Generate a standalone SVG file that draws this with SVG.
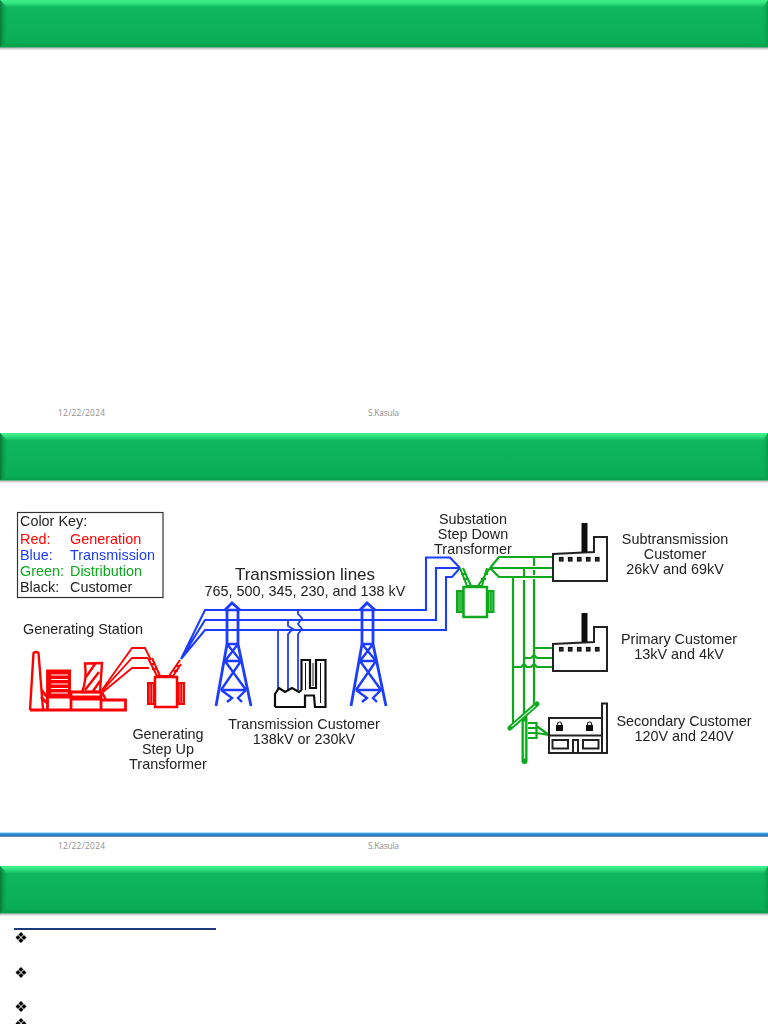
<svg xmlns="http://www.w3.org/2000/svg" xmlns:xlink="http://www.w3.org/1999/xlink" width="768" height="1024" viewBox="0 0 768 1024">
<style>
text{font-family:"Liberation Sans",Arial,sans-serif;fill:#222}
.c{text-anchor:middle}
.f{font-family:"Open Sans","Noto Sans",sans-serif;font-size:8.400px;fill:#8f8f8f}
.k{font-size:14.400px}
.l{font-size:14.400px}
.r{fill:none;stroke:#f00;stroke-width:2.400}
.b{fill:none;stroke:#1c3cff;stroke-width:2.100}
.g{fill:none;stroke:#0aa81e;stroke-width:2.200}
.t{fill:none;stroke:#111;stroke-width:2.200}
.bul{font-family:"DejaVu Sans",sans-serif;font-size:15px;fill:#000;opacity:.99}
</style>
<defs>
<linearGradient id="gr" x1="0" y1="0" x2="0" y2="1">
<stop offset="0" stop-color="#3ff28c"/><stop offset=".06" stop-color="#35e581"/><stop offset=".16" stop-color="#0fb75f"/><stop offset=".9" stop-color="#0aad56"/><stop offset=".97" stop-color="#07a14a"/><stop offset="1" stop-color="#0c9a4c"/>
</linearGradient>
<linearGradient id="bvl" x1="0" y1="0" x2="1" y2="0"><stop offset="0" stop-color="#067a38"/><stop offset=".5" stop-color="#0a9a4c" stop-opacity=".7"/><stop offset="1" stop-color="#0aad56" stop-opacity="0"/></linearGradient>
<linearGradient id="bvr" x1="1" y1="0" x2="0" y2="0"><stop offset="0" stop-color="#0a9a4c"/><stop offset="1" stop-color="#0aad56" stop-opacity="0"/></linearGradient>
<linearGradient id="bl" x1="0" y1="0" x2="0" y2="1">
<stop offset="0" stop-color="#5db4ee"/><stop offset=".6" stop-color="#1574c4"/><stop offset="1" stop-color="#8f9aa5"/>
</linearGradient>
<filter id="soft" x="-2%" y="-2%" width="104%" height="104%"><feGaussianBlur stdDeviation="0.35"/></filter>
<g id="banner">
<rect x="0" y="47" width="768" height="2.500" fill="#cfcfcf"/>
<rect x="0" y="0" width="768" height="47.500" fill="url(#gr)"/>
<polygon points="0,0 8,8 8,40 0,47.500" fill="url(#bvl)"/>
<polygon points="768,0 762,8 762,40 768,47.500" fill="url(#bvr)"/>
</g>
<g id="tower">
<path style="stroke-width:2.800" d="M225,610 L232,603 L240,610 M227,610 V644 L216,706 M238,610 V644 L251,706"/>
<path style="stroke-width:2.400" d="M225,610 H240 M227,644 H238 M225,661 H241 M221,690 H246 M227,644 L241,661 L221,690 M238,644 L225,661 L246,690 M221,690 L232,698 L227,702 M246,690 L238,698 L242,702"/>
</g>
<g id="factory">
<path d="M553,554 V581 H607 V537 H594 V552 Z" fill="#fff" stroke="#222" stroke-width="2"/>
<rect x="581.500" y="523" width="6" height="29" fill="#111"/>
<g fill="#333" stroke="#111" stroke-width="1.200">
<rect x="559.500" y="557.500" width="3.500" height="3.500"/><rect x="568.500" y="557.500" width="3.500" height="3.500"/><rect x="577.500" y="557.500" width="3.500" height="3.500"/><rect x="586.500" y="557.500" width="3.500" height="3.500"/><rect x="595.500" y="557.500" width="3.500" height="3.500"/>
</g>
</g>
</defs>
<rect width="768" height="1024" fill="#fff"/>
<g id="banner-1"><use xlink:href="#banner" href="#banner" y="0"/></g>
<g id="banner-2"><use xlink:href="#banner" href="#banner" y="433"/></g>
<g id="banner-3"><use xlink:href="#banner" href="#banner" y="866"/></g>
<g id="footer-1"><text class="f" x="58" y="416" textLength="47">12/22/2024</text><text class="f" x="368" y="416" textLength="31">S.Kasula</text></g>
<g id="footer-2"><text class="f" x="58" y="849" textLength="47">12/22/2024</text><text class="f" x="368" y="849" textLength="31">S.Kasula</text></g>
<rect id="rule" x="0" y="832.500" width="768" height="4.500" fill="url(#bl)"/>
<g id="diagram" filter="url(#soft)">
<g id="color-key">
<rect x="17.500" y="512.500" width="145.500" height="85" fill="#fff" stroke="#333" stroke-width="1.200"/>
<text class="k" x="20" y="525.500">Color Key:</text>
<text class="k" x="20" y="544" style="fill:#f00">Red:</text><text class="k" x="70" y="544" style="fill:#f00">Generation</text>
<text class="k" x="20" y="560" style="fill:#1c3cff">Blue:</text><text class="k" x="70" y="560" style="fill:#1c3cff">Transmission</text>
<text class="k" x="20" y="576" style="fill:#0aa81e">Green:</text><text class="k" x="70" y="576" style="fill:#0aa81e">Distribution</text>
<text class="k" x="20" y="592">Black:</text><text class="k" x="70" y="592">Customer</text>
</g>
<g id="generating-station">
<text class="l" x="23" y="634">Generating Station</text>
<path class="r" d="M30,710 L33.500,653 Q36,651 38.500,653 L43,709"/>
<path class="r" style="stroke-width:2.800" d="M30,710 H125.500 V700 H101 V692 H71 M71,710 V692 M101,710 V692 M47.500,710 V671 H71 M71,697 H101 M71,699 H101 M47.500,697 H71 M41,697 L47,703 M41.500,690 L47,697"/>
<rect x="47" y="670" width="24" height="26" fill="#f00"/>
<path style="stroke:#fff;stroke-width:1.100;fill:none" d="M51,675 H68 M51,679.500 H68 M51,684 H68 M51,688.500 H68 M51,693 H68"/>
<path class="r" d="M85,663.500 L102,663 L100,692 H82 Q87,680 85,663.500 Z M85,690 L99,672 M93,691 L100,681 M86,677 L95,664"/>
<path class="r" d="M102,692 L106,700"/>
</g>
<g id="generating-transformer">
<rect x="155" y="677" width="22" height="30" fill="#fff" stroke="#f00" stroke-width="2.500"/>
<rect x="147" y="682" width="8" height="23" fill="#f00"/>
<rect x="177" y="682" width="8" height="23" fill="#f00"/>
<path style="stroke:#ff9a9a;stroke-width:.8;fill:none" d="M150,684 V703 M152.500,684 V703 M180,684 V703 M182.500,684 V703"/>
<path class="r" style="stroke-width:2" d="M148,658 L157,676 M152,658 L160,676 M180,660 L169,676 M181,664 L173,676 M150,664 H154 M152,669 H157 M177,666 H180 M174,671 H178 M157,676 H173"/>
</g>
<g id="generating-label"><text class="l c" x="168" y="739">Generating</text><text class="l c" x="168" y="754">Step Up</text><text class="l c" x="168" y="769">Transformer</text></g>
<g id="lines-label"><text class="c" x="305" y="580" style="font-size:17px">Transmission lines</text><text class="c" x="305" y="596" style="font-size:14.400px">765, 500, 345, 230, and 138 kV</text></g>
<g id="connectors">
<path class="r" style="stroke-width:1.800" d="M102,690 L132,648 H145 L151,660 M102,691 L132,658 H148 M103,692 L132,668 H149"/>
<path class="b" d="M181,659 L205,610 H426 V557.500 H450 L460,568 M181,659 L205,620 H436 V568 H459 M181,659 L205,630 H446 V577 H452 L460,568"/>
<path class="b" style="stroke-width:1.800" d="M278,630 V690 M288,620 V626 L293,629 L288,634 V690 M298,610 V614 L302,618 L298,624 L302,629 L298,634 V690"/>
<path class="g" d="M490,568 L499,557 H553 M490,568 H553 M490,568 L499,577 H553"/>
<path class="g" d="M513,577 V725 M524,568 V576 M524,580 V722 M534,557 V566 M534,570 V575 M534,579 V706"/>
<path class="g" d="M534,648 H553 M524,658 H531 L534,655 L537,658 H553 M513,667 H521 L524,664 L527,667 H531 L534,664 L537,667 H553"/>
</g>
<g id="tower-1" class="b"><use xlink:href="#tower" href="#tower"/></g>
<g id="tower-2" class="b"><use xlink:href="#tower" href="#tower" x="135"/></g>
<g id="transmission-customer">
<path class="t" d="M275,707 V694 L279,688 L285,692 L292,688 L299,692 L301.500,690 M275,707 H305 V695.500 H314 L315,707 H325.500 V660 H316 V688 H310 V660 H301.500 V690"/>
<path class="t" style="stroke-width:1" d="M305.500,690 V663 M313,686 V663 M320.500,703 V663"/>
<text class="l c" x="304" y="729">Transmission Customer</text><text class="l c" x="304" y="744">138kV or 230kV</text>
</g>
<g id="substation">
<text class="l c" x="473" y="524">Substation</text><text class="l c" x="473" y="539">Step Down</text><text class="l c" x="473" y="554">Transformer</text>
<rect x="463.500" y="587" width="23.500" height="30" fill="#fff" stroke="#0aa81e" stroke-width="2.500"/>
<rect x="456" y="590" width="7.500" height="23" fill="#0aa81e"/>
<rect x="487" y="590" width="7.500" height="23" fill="#0aa81e"/>
<path style="stroke:#7fd88a;stroke-width:.8;fill:none" d="M459,592 V611 M461,592 V611 M489.500,592 V611 M492,592 V611"/>
<path class="g" style="stroke-width:2" d="M460,568 L467,586 M463,568 L471,586 M490,568 L478,586 M487,568 L482,586 M461,574 H466 M463,579 H469 M481,579 H486 M484,574 H488 M467,586 H482"/>
</g>
<g id="subtransmission-customer"><use xlink:href="#factory" href="#factory"/>
<text class="l c" x="675" y="544">Subtransmission</text><text class="l c" x="675" y="559">Customer</text><text class="l c" x="675" y="574">26kV and 69kV</text></g>
<g id="primary-customer"><use xlink:href="#factory" href="#factory" y="90"/>
<text class="l c" x="679" y="644">Primary Customer</text><text class="l c" x="679" y="659">13kV and 4kV</text></g>
<g id="distribution-pole">
<path style="fill:none;stroke:#0aa81e;stroke-width:6;stroke-linecap:round" d="M524.500,718 V761"/>
<path style="fill:none;stroke:#c8f0cc;stroke-width:1.500;stroke-linecap:round" d="M524.500,722 V758"/>
<path style="fill:none;stroke:#0aa81e;stroke-width:5;stroke-linecap:round" d="M510,728 L537,704"/>
<path style="fill:none;stroke:#c8f0cc;stroke-width:1.200;stroke-linecap:round" d="M512,726 L535,706"/>
<path class="g" d="M528,723 H536.500 V738 H528 M528,728 H536.500 M528,733 H536.500 M536.500,726 L549,735 M536.500,733 L549,735"/>
</g>
<g id="secondary-customer">
<path d="M549,718 V753 H607 V703.500 H602 V718 Z M549,735.500 H602 M602,718 V753" fill="#fff" stroke="#222" stroke-width="2"/>
<rect x="552.500" y="740" width="15.500" height="8.500" fill="#fff" stroke="#222" stroke-width="2"/>
<rect x="573" y="740" width="5" height="13" fill="#fff" stroke="#222" stroke-width="2"/>
<rect x="583" y="740" width="15.500" height="8.500" fill="#fff" stroke="#222" stroke-width="2"/>
<path d="M556,731 V725 H563 V731 Z M586,731 V725 H593 V731 Z" fill="#111"/>
<path d="M557.500,725 V724 A2,2 0 0 1 561.500,724 V725 M587.500,725 V724 A2,2 0 0 1 591.500,724 V725" fill="none" stroke="#222" stroke-width="1.200"/>
<text class="l c" x="684" y="726">Secondary Customer</text><text class="l c" x="684" y="741">120V and 240V</text>
</g>
</g>
<g id="slide-3-list">
<rect x="14" y="928" width="202" height="2" fill="#1f3a7a"/>
<text class="bul c" x="21" y="942.500">❖</text>
<text class="bul c" x="21" y="977.500">❖</text>
<text class="bul c" x="21" y="1011.500">❖</text>
<text class="bul c" x="21" y="1028.500">❖</text>
</g>
</svg>
